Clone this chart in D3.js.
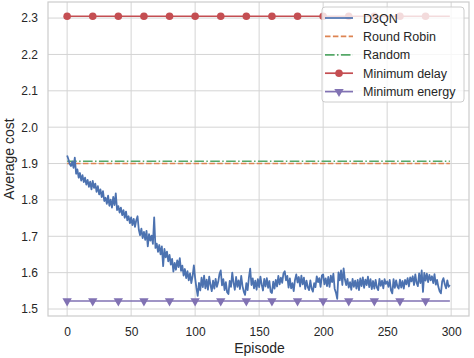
<!DOCTYPE html>
<html><head><meta charset="utf-8">
<script src="https://cdn.jsdelivr.net/npm/d3@7"></script>
<style>body{margin:0;background:#fff}svg{display:block}text{font-family:"Liberation Sans",Arial,sans-serif;fill:#262626}</style>
</head><body><svg id="c" width="474" height="358"></svg>
<script>
const d3qn = [
1.922,1.912,1.899,1.893,1.905,1.888,1.916,1.872,1.884,1.861,
1.874,1.853,1.868,1.849,1.861,1.842,1.855,1.836,1.850,1.829,
1.852,1.833,1.845,1.822,1.838,1.815,1.829,1.808,1.824,1.797,
1.806,1.789,1.812,1.784,1.801,1.779,1.808,1.786,1.818,1.772,
1.783,1.765,1.779,1.758,1.772,1.751,1.768,1.744,1.755,1.736,
1.752,1.731,1.748,1.726,1.744,1.755,1.718,1.703,1.721,1.695,
1.712,1.690,1.715,1.672,1.706,1.688,1.702,1.679,1.752,1.668,
1.680,1.657,1.676,1.650,1.672,1.618,1.665,1.642,1.658,1.631,
1.649,1.622,1.638,1.603,1.627,1.608,1.634,1.615,1.640,1.605,
1.619,1.592,1.610,1.585,1.604,1.579,1.598,1.571,1.590,1.620,
1.585,1.558,1.536,1.572,1.551,1.586,1.560,1.592,1.557,1.581,
1.553,1.589,1.566,1.549,1.578,1.556,1.583,1.561,1.574,1.596,
1.606,1.565,1.582,1.552,1.574,1.546,1.541,1.577,1.561,1.600,
1.572,1.553,1.588,1.561,1.579,1.555,1.591,1.563,1.548,1.539,
1.571,1.552,1.586,1.611,1.566,1.584,1.557,1.578,1.553,1.582,
1.560,1.589,1.567,1.551,1.583,1.562,1.585,1.558,1.577,1.547,
1.544,1.575,1.556,1.580,1.562,1.591,1.568,1.586,1.572,1.598,
1.604,1.579,1.591,1.559,1.584,1.557,1.571,1.549,1.580,1.595,
1.573,1.588,1.562,1.592,1.568,1.586,1.555,1.578,1.560,1.552,
1.579,1.556,1.548,1.571,1.560,1.590,1.574,1.585,1.561,1.592,
1.595,1.568,1.584,1.563,1.588,1.561,1.592,1.574,1.597,1.556,
1.545,1.528,1.601,1.579,1.606,1.566,1.612,1.581,1.566,1.583,
1.559,1.574,1.553,1.583,1.561,1.578,1.556,1.580,1.552,1.584,
1.563,1.587,1.558,1.581,1.566,1.589,1.560,1.582,1.555,1.577,
1.556,1.580,1.559,1.552,1.583,1.564,1.578,1.557,1.582,1.569,
1.576,1.561,1.580,1.551,1.543,1.582,1.558,1.579,1.562,1.556,
1.581,1.559,1.577,1.556,1.580,1.568,1.585,1.562,1.587,1.576,
1.590,1.566,1.595,1.572,1.563,1.598,1.571,1.606,1.547,1.599,
1.578,1.597,1.574,1.594,1.579,1.590,1.571,1.596,1.567,1.580,
1.561,1.549,1.543,1.576,1.585,1.568,1.557,1.579,1.561,1.566
];
const roundRobin = 1.900;
const randomCost = 1.906;
const minDelay = 2.305;
const minEnergy = 1.522;
const xTicks = [0,50,100,150,200,250,300];
const yTicks = [1.5,1.6,1.7,1.8,1.9,2.0,2.1,2.2,2.3];
const seriesNames = ["D3QN","Round Robin","Random","Minimum delay","Minimum energy"];
const colors = ["#4C72B0","#DD8452","#55A868","#C44E52","#8172B3"];

const svg = d3.select("#c");
const L=48,R=469,T=2,B=316;
const n = d3qn.length;
const x = d3.scaleLinear().domain([-14.95, 313.95]).range([L,R]);
const y = d3.scaleLinear().domain([1.4808, 2.3442]).range([B,T]);
const idx = d3.range(n);

// grid
const g = svg.append("g");
g.selectAll(".gx").data(xTicks).join("line").attr("x1",d=>x(d)).attr("x2",d=>x(d)).attr("y1",T).attr("y2",B).attr("stroke","#d4d4d4").attr("stroke-width",1);
g.selectAll(".gy").data(yTicks).join("line").attr("y1",d=>y(d)).attr("y2",d=>y(d)).attr("x1",L).attr("x2",R).attr("stroke","#d4d4d4").attr("stroke-width",1);
svg.append("rect").attr("x",L).attr("y",T).attr("width",R-L).attr("height",B-T).attr("fill","none").attr("stroke","#cccccc").attr("stroke-width",1.2);

// axes
const ax = svg.append("g").attr("transform",`translate(0,${B})`).call(d3.axisBottom(x).tickValues(xTicks).tickSize(0).tickPadding(11).tickFormat(d3.format("d")));
ax.select(".domain").remove();
ax.selectAll("text").attr("font-size",12).style("font-family","Liberation Sans, Arial, sans-serif").attr("fill","#262626");
const ay = svg.append("g").attr("transform",`translate(${L},0)`).call(d3.axisLeft(y).tickValues(yTicks).tickSize(0).tickPadding(10).tickFormat(d3.format(".1f")));
ay.select(".domain").remove();
ay.selectAll("text").attr("font-size",12).style("font-family","Liberation Sans, Arial, sans-serif").attr("fill","#262626");

svg.append("text").attr("x",(L+R)/2+1).attr("y",353).attr("text-anchor","middle").attr("font-size",14).text("Episode");
svg.append("text").attr("transform",`translate(13.5,${(T+B)/2}) rotate(-90)`).attr("text-anchor","middle").attr("font-size",14).text("Average cost");

// lines
const line = d3.line().x((d,i)=>x(i)).y(d=>y(d));
const constLine = v => idx.map(()=>v);
svg.append("path").datum(constLine(roundRobin)).attr("d",line).attr("fill","none").attr("stroke",colors[1]).attr("stroke-width",1.5).attr("stroke-dasharray","5.5,2.4");
svg.append("path").datum(constLine(randomCost)).attr("d",line).attr("fill","none").attr("stroke",colors[2]).attr("stroke-width",1.5).attr("stroke-dasharray","9.6,2.4,1.5,2.4");
svg.append("path").datum(d3qn).attr("d",line).attr("fill","none").attr("stroke",colors[0]).attr("stroke-width",1.8).attr("stroke-linejoin","round");
svg.append("path").datum(constLine(minDelay)).attr("d",line).attr("fill","none").attr("stroke",colors[3]).attr("stroke-width",1.7);
svg.append("path").datum(constLine(minEnergy)).attr("d",line).attr("fill","none").attr("stroke",colors[4]).attr("stroke-width",1.7);
const marks = idx.filter(i=>i%20===0);
svg.selectAll(".md").data(marks).join("circle").attr("cx",d=>x(d)).attr("cy",y(minDelay)).attr("r",3.8).attr("fill",colors[3]);
const tri = d3.symbol().type(d3.symbolTriangle).size(38);
svg.selectAll(".me").data(marks).join("path").attr("d",tri).attr("transform",d=>`translate(${x(d)},${y(minEnergy)}) rotate(180)`).attr("fill",colors[4]);

// legend
const lg = svg.append("g");
lg.append("rect").attr("x",322).attr("y",7).attr("width",142).attr("height",95).attr("rx",3).attr("fill","#fff").attr("fill-opacity",0.8).attr("stroke","#cccccc").attr("stroke-width",1);
const dashes = [null,"5.5,2.4","9.6,2.4,1.5,2.4",null,null];
seriesNames.forEach((nm,i)=>{
  const cy = 18 + i*18.4;
  lg.append("line").attr("x1",325).attr("x2",353).attr("y1",cy).attr("y2",cy).attr("stroke",colors[i]).attr("stroke-width",1.7).attr("stroke-dasharray",dashes[i]);
  if(i===3) lg.append("circle").attr("cx",339).attr("cy",cy).attr("r",3.8).attr("fill",colors[i]);
  if(i===4) lg.append("path").attr("d",tri).attr("transform",`translate(339,${cy}) rotate(180)`).attr("fill",colors[i]);
  lg.append("text").attr("x",363).attr("y",cy+4.5).attr("font-size",12.5).text(nm);
});
</script></body></html>
